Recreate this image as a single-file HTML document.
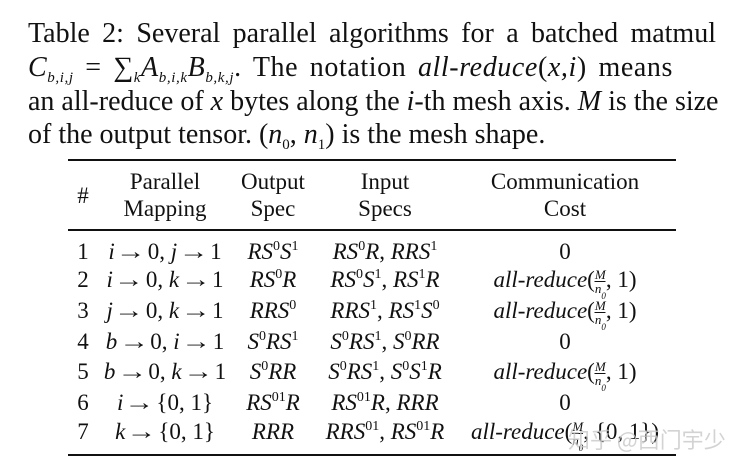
<!DOCTYPE html>
<html><head><meta charset="utf-8"><style>
body{margin:0;width:750px;height:472px;background:#fff;position:relative;overflow:hidden;font-family:"Liberation Serif",serif;color:#111}
.cap{position:absolute;left:28px;width:688px;font-size:28px;line-height:33px;white-space:nowrap;text-align:justify;text-align-last:justify}
.cap.last{text-align-last:left;width:auto}
.cap.l2{text-align:left;text-align-last:left;width:auto;word-spacing:4px;letter-spacing:0.6px}
.c{position:absolute;font-size:23px;line-height:26px;white-space:nowrap;transform:translateX(-50%)}
i{font-style:italic}
sup{font-size:14px;vertical-align:9px;line-height:0}
sub{font-size:15px;vertical-align:-6px;line-height:0}
.a{display:inline-block;transform:scaleX(1.3);margin:0 5px}
.rule{position:absolute;left:68px;width:608px;background:#111}
.fr{display:inline-block;vertical-align:middle;text-align:center;font-size:13px;line-height:13px;font-style:italic}
.fr span{display:block}
.fr span:first-child{border-bottom:1px solid #111}
.wm{position:absolute;left:568px;top:423px;font-family:"Noto Sans CJK SC",sans-serif;font-size:22px;color:rgba(200,200,200,0.8)}
</style></head><body>
<div class="cap" style="top:17px">Table 2: Several parallel algorithms for a batched matmul</div>
<div class="cap l2" style="top:51px"><i>C</i><sub><i>b,i,j</i></sub> = ∑<sub><i>k</i></sub><i>A</i><sub><i>b,i,k</i></sub><i>B</i><sub><i>b,k,j</i></sub>. The notation <i>all-reduce</i>(<i>x,i</i>) means</div>
<div class="cap" style="top:85px">an all-reduce of <i>x</i> bytes along the <i>i</i>-th mesh axis. <i>M</i> is the size</div>
<div class="cap last" style="top:118px">of the output tensor. (<i>n</i><sub>0</sub>, <i>n</i><sub>1</sub>) is the mesh shape.</div>
<div class="rule" style="top:159px;height:2px"></div>
<div class="rule" style="top:229px;height:1.5px"></div>
<div class="rule" style="top:454px;height:2px"></div>

<div class="c" style="left:83px;top:183px">#</div>
<div class="c" style="left:165px;top:169px">Parallel</div><div class="c" style="left:165px;top:196px">Mapping</div>
<div class="c" style="left:273px;top:169px">Output</div><div class="c" style="left:273px;top:196px">Spec</div>
<div class="c" style="left:385px;top:169px">Input</div><div class="c" style="left:385px;top:196px">Specs</div>
<div class="c" style="left:565px;top:169px">Communication</div><div class="c" style="left:565px;top:196px">Cost</div>

<div class="c" style="left:83px;top:239px">1</div>
<div class="c" style="left:165px;top:239px"><i>i</i><span class="a">→</span>0, <i>j</i><span class="a">→</span>1</div>
<div class="c" style="left:273px;top:239px"><i>RS</i><sup>0</sup><i>S</i><sup>1</sup></div>
<div class="c" style="left:385px;top:239px"><i>RS</i><sup>0</sup><i>R</i>, <i>RRS</i><sup>1</sup></div>
<div class="c" style="left:565px;top:239px">0</div>

<div class="c" style="left:83px;top:267px">2</div>
<div class="c" style="left:165px;top:267px"><i>i</i><span class="a">→</span>0, <i>k</i><span class="a">→</span>1</div>
<div class="c" style="left:273px;top:267px"><i>RS</i><sup>0</sup><i>R</i></div>
<div class="c" style="left:385px;top:267px"><i>RS</i><sup>0</sup><i>S</i><sup>1</sup>, <i>RS</i><sup>1</sup><i>R</i></div>
<div class="c" style="left:565px;top:267px"><i>all-reduce</i>(<span class="fr"><span>M</span><span>n<sub style="font-size:9px">0</sub></span></span>, 1)</div>

<div class="c" style="left:83px;top:298px">3</div>
<div class="c" style="left:165px;top:298px"><i>j</i><span class="a">→</span>0, <i>k</i><span class="a">→</span>1</div>
<div class="c" style="left:273px;top:298px"><i>RRS</i><sup>0</sup></div>
<div class="c" style="left:385px;top:298px"><i>RRS</i><sup>1</sup>, <i>RS</i><sup>1</sup><i>S</i><sup>0</sup></div>
<div class="c" style="left:565px;top:298px"><i>all-reduce</i>(<span class="fr"><span>M</span><span>n<sub style="font-size:9px">0</sub></span></span>, 1)</div>

<div class="c" style="left:83px;top:329px">4</div>
<div class="c" style="left:165px;top:329px"><i>b</i><span class="a">→</span>0, <i>i</i><span class="a">→</span>1</div>
<div class="c" style="left:273px;top:329px"><i>S</i><sup>0</sup><i>RS</i><sup>1</sup></div>
<div class="c" style="left:385px;top:329px"><i>S</i><sup>0</sup><i>RS</i><sup>1</sup>, <i>S</i><sup>0</sup><i>RR</i></div>
<div class="c" style="left:565px;top:329px">0</div>

<div class="c" style="left:83px;top:359px">5</div>
<div class="c" style="left:165px;top:359px"><i>b</i><span class="a">→</span>0, <i>k</i><span class="a">→</span>1</div>
<div class="c" style="left:273px;top:359px"><i>S</i><sup>0</sup><i>RR</i></div>
<div class="c" style="left:385px;top:359px"><i>S</i><sup>0</sup><i>RS</i><sup>1</sup>, <i>S</i><sup>0</sup><i>S</i><sup>1</sup><i>R</i></div>
<div class="c" style="left:565px;top:359px"><i>all-reduce</i>(<span class="fr"><span>M</span><span>n<sub style="font-size:9px">0</sub></span></span>, 1)</div>

<div class="c" style="left:83px;top:390px">6</div>
<div class="c" style="left:165px;top:390px"><i>i</i><span class="a">→</span>{0, 1}</div>
<div class="c" style="left:273px;top:390px"><i>RS</i><sup>01</sup><i>R</i></div>
<div class="c" style="left:385px;top:390px"><i>RS</i><sup>01</sup><i>R</i>, <i>RRR</i></div>
<div class="c" style="left:565px;top:390px">0</div>

<div class="c" style="left:83px;top:419px">7</div>
<div class="c" style="left:165px;top:419px"><i>k</i><span class="a">→</span>{0, 1}</div>
<div class="c" style="left:273px;top:419px"><i>RRR</i></div>
<div class="c" style="left:385px;top:419px"><i>RRS</i><sup>01</sup>, <i>RS</i><sup>01</sup><i>R</i></div>
<div class="c" style="left:565px;top:419px"><i>all-reduce</i>(<span class="fr"><span>M</span><span>n<sub style="font-size:9px">0</sub></span></span>, {0, 1})</div>
<div class="wm">知乎 @西门宇少</div>
</body></html>
